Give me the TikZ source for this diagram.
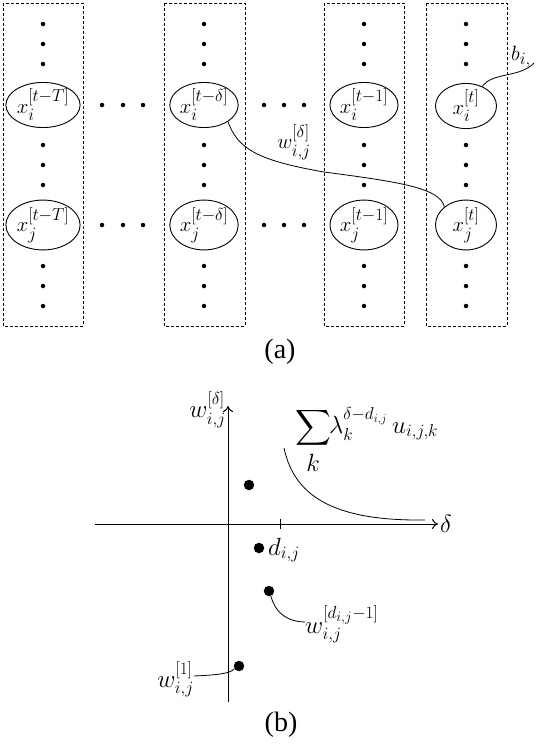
\documentclass[tikz,border=0pt]{standalone}
\usepackage{amsmath}
\usepackage{fontspec}
\setmainfont{Liberation Serif}
\DeclareMathSizes{21}{21}{16}{12}
\DeclareMathSizes{23}{23}{17.5}{13}
\DeclareMathSizes{25}{25}{19}{14}
\DeclareMathSizes{27}{27}{20.5}{15}
\usetikzlibrary{shapes.geometric,arrows.meta}
\begin{document}
\begin{tikzpicture}[x=1pt,y=-1pt,
  colbox/.style={draw,dash pattern=on 3pt off 2pt,line width=0.7pt},
  var/.style={draw,ellipse,line width=0.9pt,minimum width=61pt,minimum height=41pt,inner sep=0pt,font=\fontsize{21}{24}\selectfont},
  sdot/.style={circle,fill,inner sep=0pt,minimum size=4.5pt},
  bdot/.style={circle,fill,inner sep=0pt,minimum size=10.5pt},
  lbl/.style={inner sep=0pt,font=\fontsize{21}{24}\selectfont},
  blbl/.style={inner sep=0pt,font=\fontsize{25}{28}\selectfont},
  slbl/.style={inner sep=0pt,font=\fontsize{23}{26}\selectfont},
  wire/.style={line width=0.8pt},
  axis/.style={line width=1pt,-{To[length=6pt,width=10pt]}},
  captext/.style={font=\rmfamily\fontsize{28}{32}\selectfont}]
\useasboundingbox (0,0) rectangle (536,747);
% ---------- panel (a) ----------
\draw[colbox] (3,3) rectangle (83,326);
\draw[colbox] (164,3) rectangle (245,326);
\draw[colbox] (324,3) rectangle (404,326);
\draw[colbox] (426,3) rectangle (507,326);
\foreach \cx in {43,204,364,466}
  \foreach \cy in {24,44,64,145,165,185,266,286,306}
    \node[sdot] at (\cx,\cy) {};
\foreach \cx in {102,123,143,264,284,304}
  \foreach \cy in {105,225}
    \node[sdot] at (\cx,\cy) {};
\node[var] (e1i) at (43,105) {$x_i^{[t-T]}$};
\node[var] (e2i) at (204,105) {$x_i^{[t-\delta]}$};
\node[var] (e3i) at (364,105) {$x_i^{[t-1]}$};
\node[var] (e4i) at (466,106) {$x_i^{[t]}$};
\node[var] (e1j) at (43,225) {$x_j^{[t-T]}$};
\node[var] (e2j) at (204,225) {$x_j^{[t-\delta]}$};
\node[var] (e3j) at (364,225) {$x_j^{[t-1]}$};
\node[var] (e4j) at (466,225) {$x_j^{[t]}$};
\draw[wire] (e2i.-35) .. controls (238,148) and (255,160) .. (324,172)
  .. controls (400,182) and (440,188) .. (e4j.140);
\node[lbl] (wl) at (294,142) {$w_{i,j}^{[\delta]}$};
\node[lbl,anchor=west] (bl) at (511,57) {$b_{i,}$};
\coordinate (bend) at (534,63);
\draw[wire] (e4i.50) .. controls (492,72) and (520,78) .. (bend);
\node[captext] (capa) at (280,352) {(a)};
% ---------- panel (b) ----------
\coordinate (ybot) at (228,702);
\coordinate (ytop) at (228,406);
\coordinate (xl) at (95,524);
\coordinate (xr) at (438,524);
\draw[axis] (ybot) -- (ytop);
\draw[axis] (xl) -- (xr);
\coordinate (tk) at (280,524);
\draw[line width=0.8pt] ([yshift=-5pt]tk) -- ([yshift=5pt]tk);
\node[blbl,anchor=east] (ylab) at (226,410) {$w_{i,j}^{[\delta]}$};
\node[blbl,anchor=west] (dlab) at (440,524) {$\delta$};
\node[bdot] (p1) at (249,485) {};
\node[bdot] (p2) at (259,548) {};
\node[bdot] (p3) at (269,591) {};
\node[bdot] (p4) at (239,666) {};
\node[blbl,anchor=base west] (dij) at (268,555) {$d_{i,j}$};
\node[blbl,anchor=base west] (wd) at (305,633) {$w_{i,j}^{[d_{i,j}-1]}$};
\node[blbl,anchor=base east] (w1) at (194,687) {$w_{i,j}^{[1]}$};
\draw[wire] (p3.-70) .. controls (276,615) and (290,622) .. (wd.west |- 0,622);
\draw[wire] (w1.east |- 0,676) .. controls (215,675) and (230,674) .. (p4.-150);
\node[inner sep=0pt,font=\fontsize{34}{38}\selectfont] (sg) at (313,428) {$\displaystyle\sum$};
\node[slbl] (sk) at (313,463) {$k$};
\node[slbl,anchor=base west] (lam) at (329,433) {$\lambda_k^{\delta-d_{i,j}}$};
\node[slbl,anchor=base west] (uu) at (392,433) {$u_{i,j,k}$};
\coordinate (cs) at (284,448);
\coordinate (ce) at (425,520);
\draw[wire] (cs) .. controls (295,500) and (340,521) .. (ce);
\node[captext] (capb) at (281,725) {(b)};
\end{tikzpicture}
\end{document}
